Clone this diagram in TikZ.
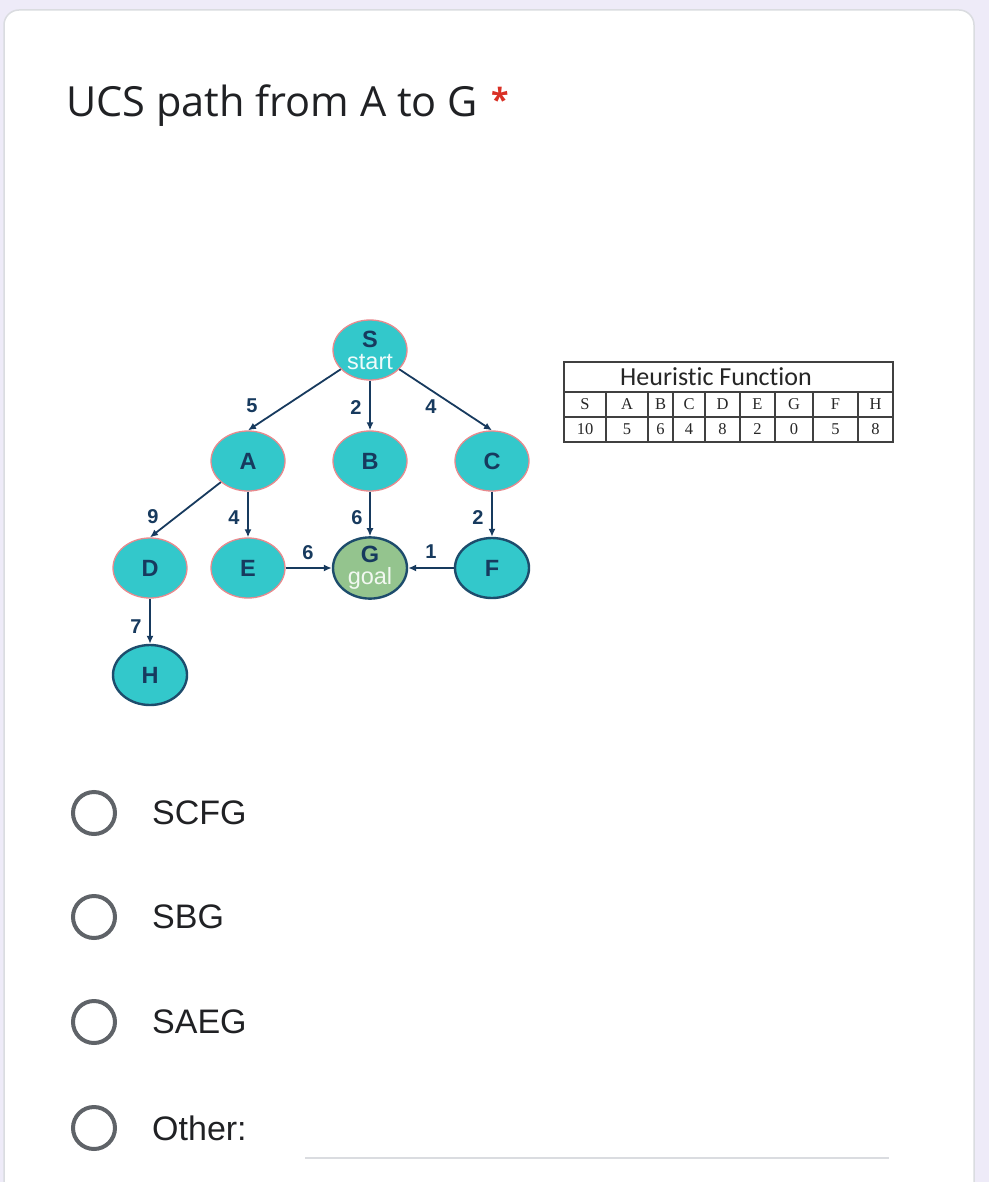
\documentclass[tikz,border=0pt]{standalone}
\usepackage{fontspec}
\setmainfont{Liberation Sans}
\newfontfamily\titulo{Open Sans}
\newfontfamily\serifTabla{Liberation Serif}
\newfontfamily\sansTabla[Ligatures=NoCommon]{Carlito}
\usepackage{tikz}
\usetikzlibrary{arrows.meta,shapes.geometric}
\definecolor{Lavanda}{HTML}{EEEBF8}
\definecolor{BordeTarjeta}{HTML}{DADCE0}
\definecolor{Turquesa}{HTML}{33C8CB}
\definecolor{Salmon}{HTML}{E88A8E}
\definecolor{Marino}{HTML}{173A5E}
\definecolor{MarinoBorde}{HTML}{1D4C6C}
\definecolor{VerdeMeta}{HTML}{94C48E}
\definecolor{Rojo}{HTML}{D93025}
\definecolor{GrisRadio}{HTML}{5F6368}
\definecolor{GrisLinea}{HTML}{DADCE0}
\definecolor{Tinta}{HTML}{202124}

\begin{document}
\begin{tikzpicture}[x=1pt,y=-1pt,>=Latex,
  estado/.style={ellipse,draw=Salmon,line width=1.3pt,fill=Turquesa,
    minimum width=74pt,minimum height=60pt,inner sep=0pt,align=center,
    text=Marino,font=\bfseries\fontsize{23.5}{23}\selectfont},
  hoja/.style={estado,draw=MarinoBorde,line width=2.4pt},
  arista/.style={Marino,line width=1.8pt,
    -{Latex[length=8pt,width=7pt]}},
  peso/.style={text=Marino,font=\bfseries\fontsize{20}{22}\selectfont,inner sep=0pt},
  tabla/.style={draw=black!75,line width=1.1pt},
  celda/.style={font=\serifTabla\fontsize{16.5}{18}\selectfont,text=black!85,inner sep=0pt},
  radio/.style={circle,draw=GrisRadio,line width=4pt,minimum size=42pt,inner sep=0pt},
  opcion/.style={anchor=west,text=Tinta,font=\fontsize{34}{40}\selectfont,inner sep=0pt}]
  \useasboundingbox (0,0) rectangle (989,1182);
  \fill[Lavanda] (0,0) rectangle (989,1182);
  \path[draw=BordeTarjeta,line width=1.5pt,fill=white,rounded corners=15pt]
    (4,1190) -- (4,10) -- (974,10) -- (974,1190);

  % Enunciado de la pregunta
  \node[anchor=base west,inner sep=0pt,text=Tinta,font=\titulo\fontsize{41.5}{48}\selectfont]
    (preg) at (66,117) {UCS path from A to G};
  \node[anchor=base west,inner sep=0pt,text=Rojo,font=\titulo\bfseries\fontsize{32}{40}\selectfont]
    (ast) at (491,112) {*};

  % Grafo de busqueda
  \node[estado] (S) at (370,350) {S\\[-1pt]{\mdseries\color{white!92!Turquesa}start}};
  \node[estado] (A) at (248,461) {A};
  \node[estado] (B) at (370,461) {B};
  \node[estado] (C) at (492,461) {C};
  \node[estado] (D) at (150,568) {D};
  \node[estado] (E) at (248,568) {E};
  \node[hoja,fill=VerdeMeta] (G) at (370,568) {G\\[-1pt]{\mdseries\color{white!88!VerdeMeta}goal}};
  \node[hoja] (F) at (492,568) {F};
  \node[hoja] (H) at (150,675) {H};

  \draw[arista] (S) -- (A.north);
  \draw[arista] (S) -- (B);
  \draw[arista] (S) -- (C.north);
  \draw[arista] (A) -- (D.north);
  \draw[arista] (A) -- (E);
  \draw[arista] (B) -- (G);
  \draw[arista] (C) -- (F);
  \draw[arista] (E) -- (G);
  \draw[arista] (F) -- (G);
  \draw[arista] (D) -- (H);

  \node[peso] (pSA) at (252,406) {5};
  \node[peso] (pSB) at (356,408) {2};
  \node[peso] (pSC) at (431,407) {4};
  \node[peso] (pAD) at (153,517) {9};
  \node[peso] (pAE) at (234,518) {4};
  \node[peso] (pBG) at (357,518) {6};
  \node[peso] (pCF) at (478,518) {2};
  \node[peso] (pEG) at (308,553) {6};
  \node[peso] (pFG) at (431,552) {1};
  \node[peso] (pDH) at (136,627) {7};

  % Tabla de la heuristica
  \draw[tabla] (564,362) rectangle (893,392);
  \node[inner sep=0pt,text=black!85,font=\sansTabla\fontsize{26}{28}\selectfont]
    (titTabla) at (716,377) {Heuristic Function};
  \foreach \xa/\xb/\letra/\valor [count=\i] in
    {564/606/S/10,606/648/A/5,648/673/B/6,673/705/C/4,705/740/D/8,
     740/775/E/2,775/813/G/0,813/858/F/5,858/893/H/8}{
    \draw[tabla] (\xa,392) rectangle (\xb,442);
    \draw[tabla] (\xa,417) -- (\xb,417);
    \node[celda] (h\i) at ({(\xa+\xb)/2},404.5) {\letra};
    \node[celda] (v\i) at ({(\xa+\xb)/2},429.5) {\valor};
  }

  % Opciones de respuesta
  \foreach \texto/\y [count=\i] in {SCFG/813,SBG/917,SAEG/1022,Other:/1128}{
    \node[radio] (r\i) at (94,\y) {};
    \node[opcion] (o\i) at (152,\y) {\texto};
  }
  \coordinate (lineaIzq) at (305,1158);
  \coordinate (lineaDer) at (889,1158);
  \draw[GrisLinea,line width=2pt] (lineaIzq) -- (lineaDer);
\end{tikzpicture}
\end{document}
